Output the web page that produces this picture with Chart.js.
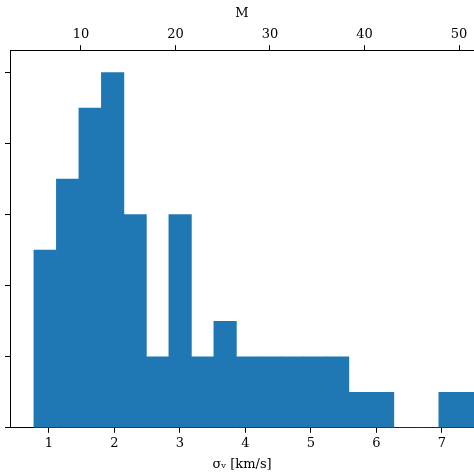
<!DOCTYPE html>
<html>
<head>
<script src="https://cdn.jsdelivr.net/npm/chart.js"></script>
<style>
  html, body { margin: 0; padding: 0; background: #fff; }
  #wrap { width: 474px; height: 474px; }
</style>
</head>
<body>
<div id="wrap"><canvas id="chart"></canvas></div>
<script>
// histogram of sigma_v, bins of equal width
const binStart = 0.77;
const binWidth = 0.3435;
const counts = [5, 7, 9, 10, 6, 2, 6, 2, 3, 2, 2, 2, 2, 2, 1, 1, 0, 0, 1, 1];
const sigmaTicks = [1, 2, 3, 4, 5, 6, 7];
const massTicks = [10, 20, 30, 40, 50];

const xMin = 0.405, xMax = 7.49;
// top axis: M = 10 + (sigma - 1.489) * 6.93
const toM = s => 10 + (s - 1.489) * 6.93;

const points = counts.map((c, i) => ({ x: binStart + binWidth * (i + 0.5), y: c }));
const font = { family: 'DejaVu Serif', size: 13 };

new Chart(document.getElementById('chart'), {
  type: 'bar',
  data: {
    datasets: [{
      data: points,
      backgroundColor: '#1f77b4',
      borderWidth: 0,
      barPercentage: 1,
      categoryPercentage: 1,
      xAxisID: 'x',
      yAxisID: 'y'
    }]
  },
  options: {
    responsive: true,
    maintainAspectRatio: false,
    animation: false,
    layout: { padding: { left: 5, right: -20, top: 6, bottom: 2 } },
    plugins: { legend: { display: false }, tooltip: { enabled: false } },
    scales: {
      x: {
        type: 'linear', position: 'bottom', min: xMin, max: xMax, offset: false,
        afterBuildTicks: ax => { ax.ticks = sigmaTicks.map(v => ({ value: v })); },
        ticks: { color: '#000', font, padding: 3, maxRotation: 0 },
        grid: { offset: false, drawOnChartArea: false, drawTicks: true, tickLength: 5, color: '#000' },
        border: { color: '#000', width: 1 },
        title: { display: true, text: 'σᵥ [km/s]', color: '#000', font, padding: { top: 2, bottom: 0 } }
      },
      x2: {
        type: 'linear', position: 'top', min: toM(xMin), max: toM(xMax), offset: false,
        afterBuildTicks: ax => { ax.ticks = massTicks.map(v => ({ value: v })); },
        ticks: { color: '#000', font, padding: 3, maxRotation: 0 },
        grid: { offset: false, drawOnChartArea: false, drawTicks: true, tickLength: 5, color: '#000' },
        border: { color: '#000', width: 1 },
        title: { display: true, text: 'M', color: '#000', font, padding: { top: 0, bottom: 2 } }
      },
      y: {
        min: 0, max: 10.63,
        afterBuildTicks: ax => { ax.ticks = [0, 2, 4, 6, 8, 10].map(v => ({ value: v })); },
        ticks: { display: false },
        grid: { drawOnChartArea: false, drawTicks: true, tickLength: 5, color: '#000' },
        border: { color: '#000', width: 1 }
      }
    }
  }
});
</script>
</body>
</html>
